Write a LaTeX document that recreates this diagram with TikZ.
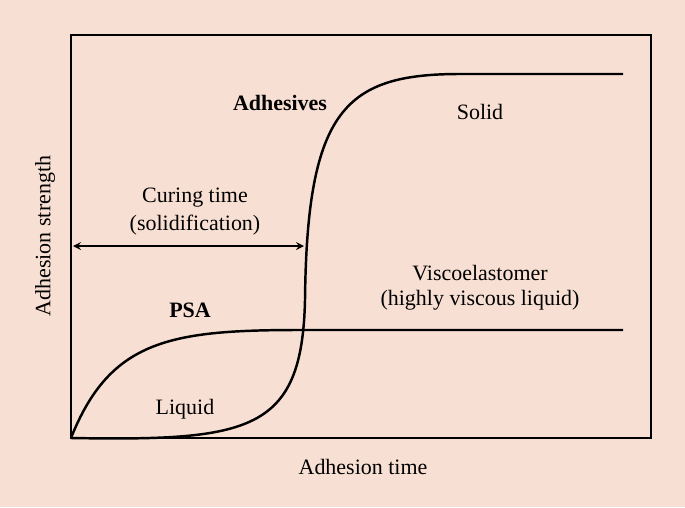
\documentclass[tikz,border=0pt]{standalone}
\usepackage{fontspec}
\setmainfont{Liberation Serif}
\definecolor{bg}{RGB}{248,223,211}
\begin{document}
\begin{tikzpicture}[x=0.02cm,y=-0.02cm,
  lbl/.style={font=\fontsize{12.5}{14}\selectfont},
  blbl/.style={font=\fontsize{12.5}{14}\selectfont\bfseries},
  curve/.style={line width=1.4pt}]
\fill[bg] (0,0) rectangle (685,507);
\useasboundingbox (0,0) rectangle (685,507);
\draw[line width=1.2pt] (71,35) rectangle (651,438);
\coordinate (o) at (71,438);
\draw[curve] (o) .. controls (110,340) and (170,330) .. (300,330) -- (623,330);
\draw[curve] (o) .. controls (250,441) and (302,432) .. (305,300)
  .. controls (307,110) and (345,74) .. (460,74) -- (623,74);
\coordinate (al) at (73,246);
\coordinate (ar) at (304,246);
\draw[line width=1pt,<->,>=stealth] (al) -- (ar);
\node[lbl] (c1) at (195,198) {Curing time};
\node[lbl] (c2) at (195,225) {(solidification)};
\node[blbl] (ad) at (280,103) {Adhesives};
\node[lbl] (so) at (480,112) {Solid};
\node[lbl] (v1) at (480,273) {Viscoelastomer};
\node[lbl] (v2) at (480,300) {(highly viscous liquid)};
\node[blbl] (psa) at (190,310) {PSA};
\node[lbl] (li) at (185,409) {Liquid};
\node[lbl] (xt) at (363,467) {Adhesion time};
\node[lbl,rotate=90] (yt) at (45,236) {Adhesion strength};
\end{tikzpicture}
\end{document}
